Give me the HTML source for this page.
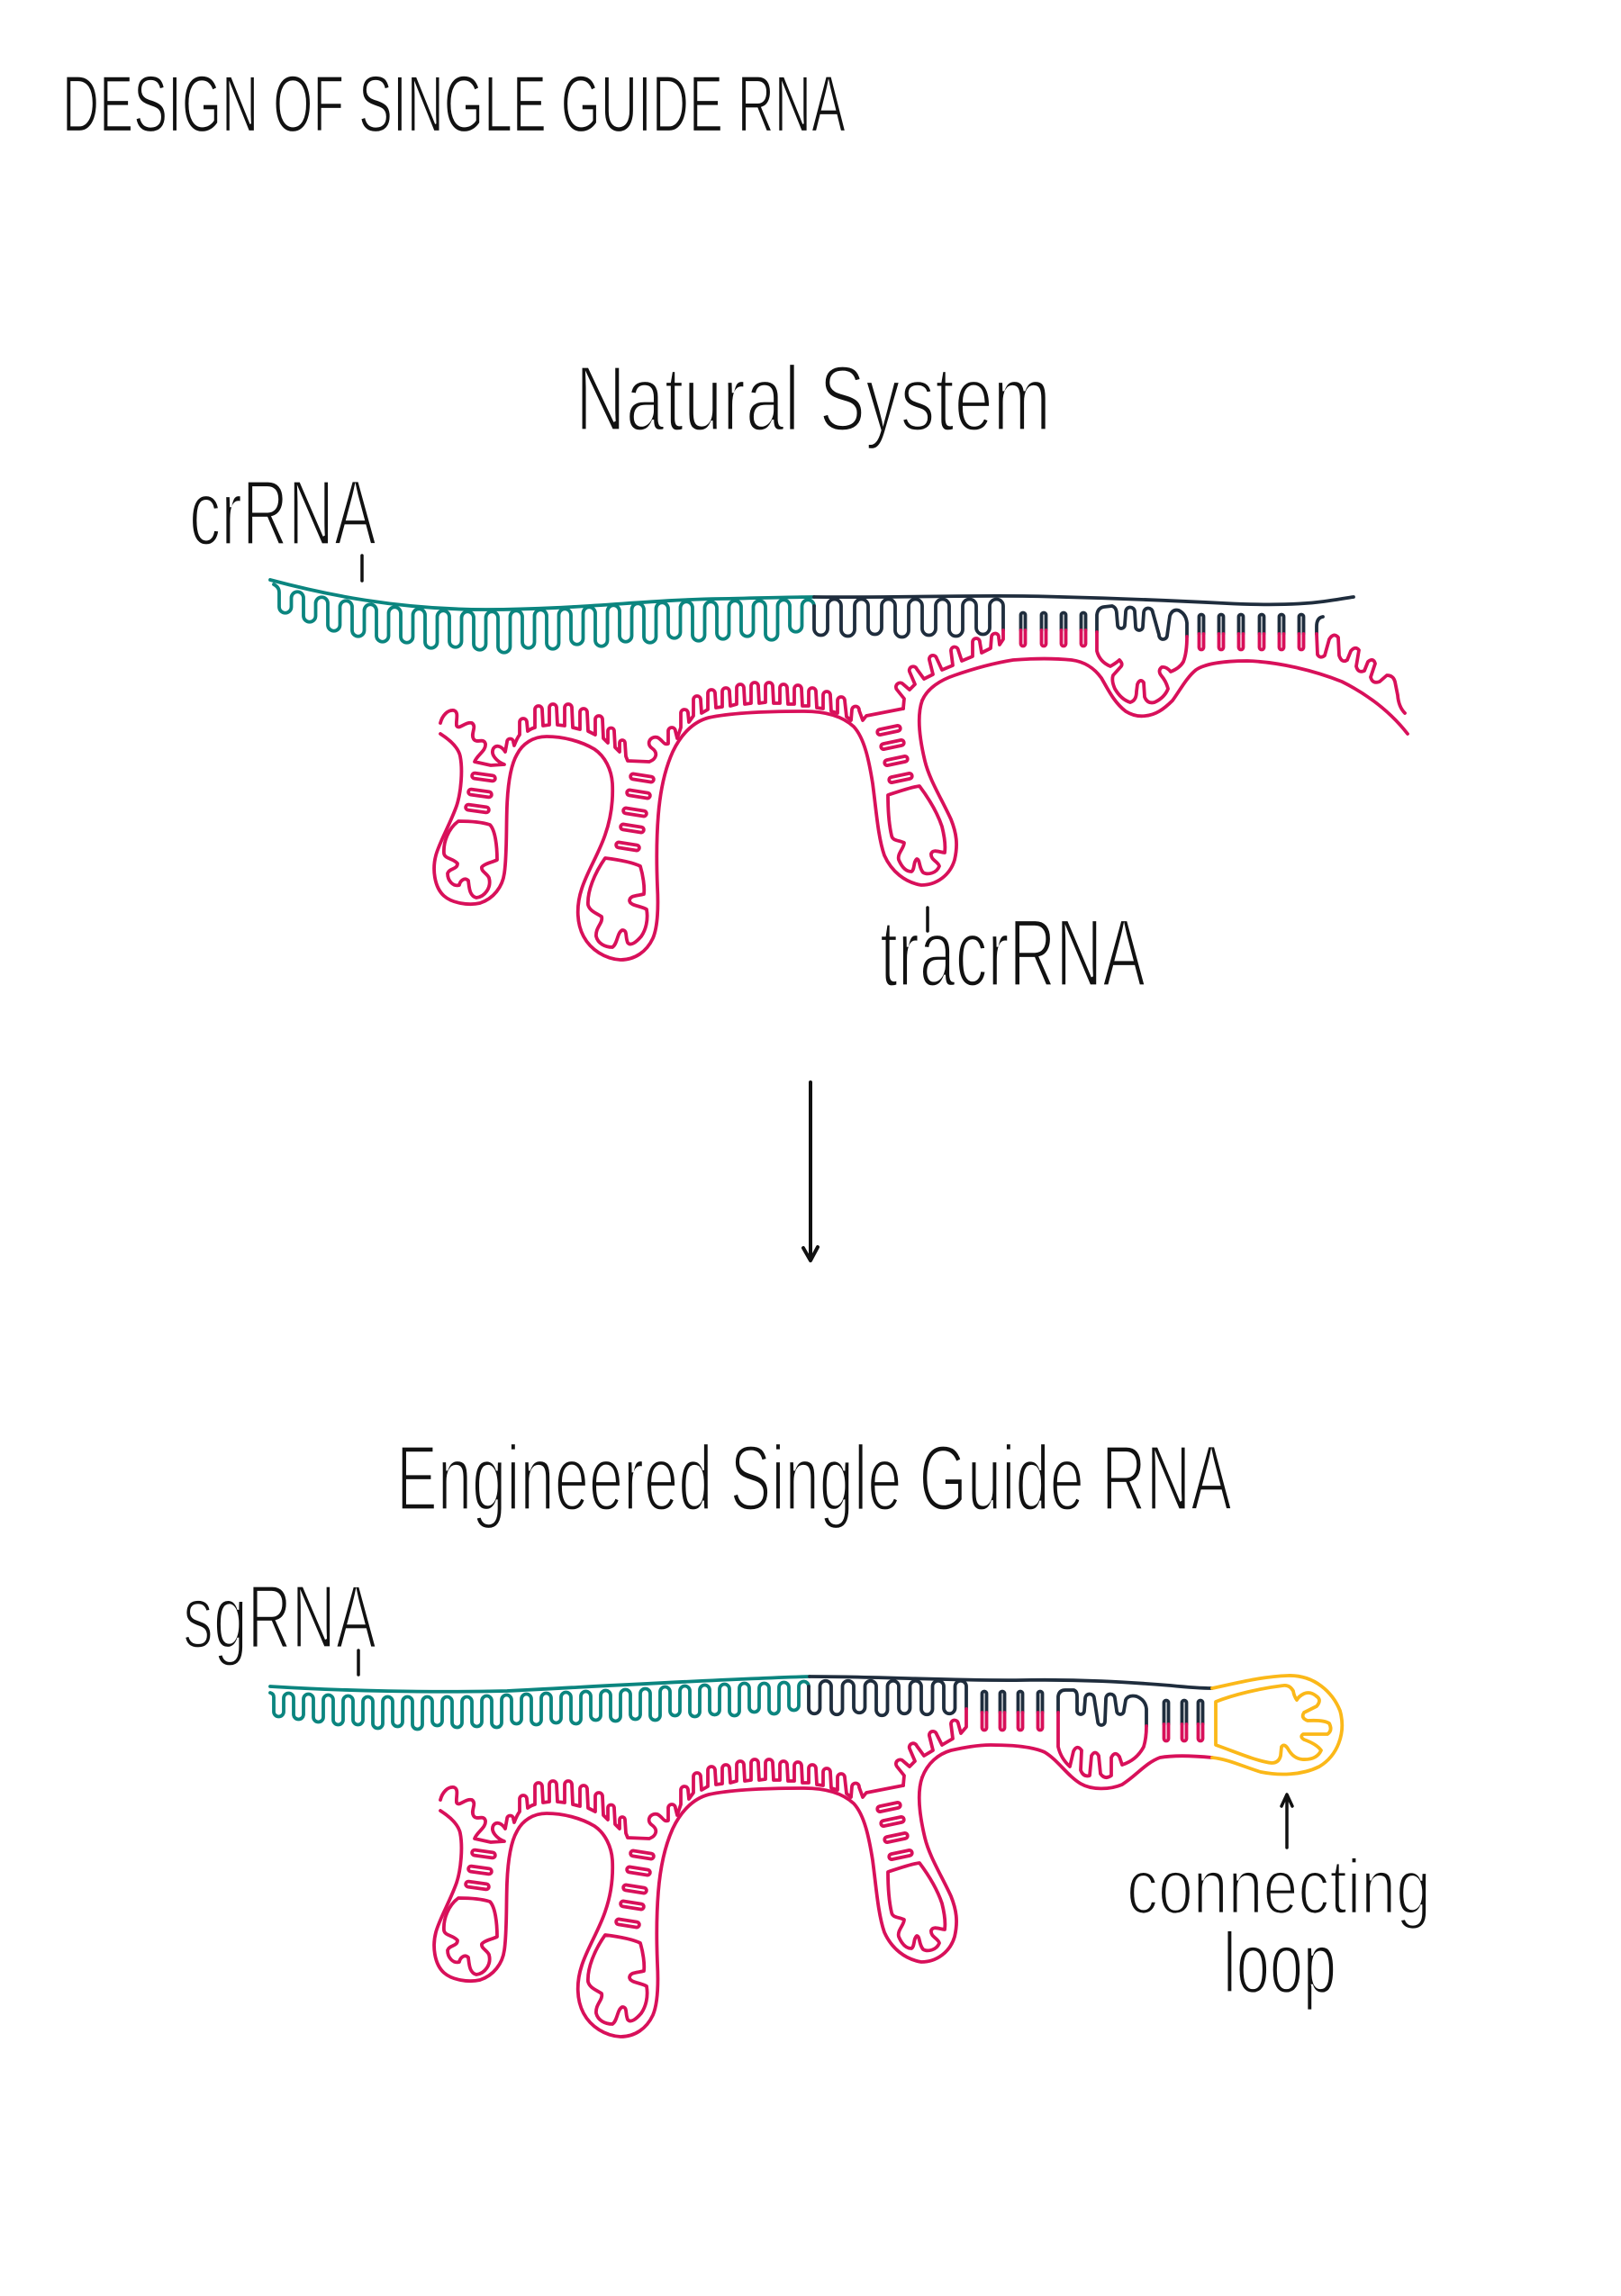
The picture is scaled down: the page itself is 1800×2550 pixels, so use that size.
<!DOCTYPE html>
<html><head><meta charset="utf-8"><style>
html,body{margin:0;padding:0;background:#fff}
svg{display:block}
.t{font-family:"Liberation Sans","DejaVu Sans",sans-serif;fill:#111;stroke:#fff;stroke-width:3.2}
</style></head><body>
<svg xmlns="http://www.w3.org/2000/svg" width="1800" height="2550" viewBox="0 0 1800 2550">
<defs>
<g id="tr" fill="none" stroke="#d8105a" stroke-width="3.8" stroke-linecap="round" stroke-linejoin="round">
<path d="M489,815 C500,822 509,830 511,840 C514,855 512,880 507,895 C500,915 488,935 484,950 C480,965 482,985 493,995 C502,1003 520,1006 533,1003 C548,998 558,985 560,970 C563,950 562,920 563,895 C564,870 567,850 574,838 C580,826 592,818 607,818 C625,818 645,823 660,832 C672,840 679,855 680,870 C681,890 678,910 672,927 C665,948 652,968 646,987 C640,1005 640,1025 648,1040 C656,1055 672,1065 689,1066 C705,1066 718,1057 725,1042 C731,1028 731,1005 730,985 C729,960 729,930 731,905 C733,880 738,855 747,835 C755,818 768,802 787,797 C810,792 850,790 893,790 C915,790 935,795 948,807 C960,820 965,845 969,870 C973,900 975,930 982,950 C990,968 1005,980 1023,983 C1040,983 1055,972 1060,955 C1064,938 1062,925 1056,910 C1046,888 1032,866 1027,845 C1021,820 1018,795 1024,778"/>
<path d="M489,803 C491,795 497,788 504,789 C510,791 506,800 507,806 C510,811 517,801 524,803 C530,807 522,815 526,821 C530,826 537,819 539,826 C540,834 530,838 527,846 L545,850 L560,849 C552,846 544,838 548,831 C552,826 558,830 561,835 L563,824 A3.5,3.5 0 0 1 570,824 L571,828 Q574,820 577,816 L577,802 A4,4 0 0 1 585,802 L586,812 Q590,809 594,808 L594,788 A4,4 0 0 1 602,788 L603,806 L610,805 L610,786 A4,4 0 0 1 618,786 L619,805 L627,806 L627,786 A4,4 0 0 1 635,786 L636,808 L644,810 L644,791 A4,4 0 0 1 652,791 L653,812 L661,816 L661,799 A4,4 0 0 1 669,799 L670,820 L675,825 L675,812 A3.5,3.5 0 0 1 682,812 L683,830 L688,835 L688,825 A3,3 0 0 1 694,825 L695,840 L697,845 L721,846 C729,843 731,836 724,831 C717,826 722,817 730,819 C736,822 737,828 742,826 L742,812 A4,4 0 0 1 750,812 L752,820 L756,808 L756,792 A4,4 0 0 1 764,792 L765,802 L770,795 L770,777 A4,4 0 0 1 778,777 L779,792 L786,788 L786,770 A4,4 0 0 1 794,770 L795,786 L802,785 L802,768 A4,4 0 0 1 810,768 L811,784 L818,782 L818,764 A4,4 0 0 1 826,764 L827,782 L834,781 L834,762 A4,4 0 0 1 842,762 L843,781 L850,780 L850,762 A4,4 0 0 1 858,762 L859,781 L866,781 L866,764 A4,4 0 0 1 874,764 L875,782 L882,782 L882,765 A4,4 0 0 1 890,765 L891,784 L898,784 L898,768 A4,4 0 0 1 906,768 L907,786 L914,787 L914,772 A4,4 0 0 1 922,772 L923,790 L930,792 L930,778 A4,4 0 0 1 938,778 L940,796 L945,800 L946,788 A4,4 0 0 1 954,789 L958,800 L962,795 L1003,787"/>
<rect x="524" y="860" width="26" height="6" rx="3" transform="rotate(8 537 863)"/>
<rect x="520" y="878" width="26" height="6" rx="3" transform="rotate(8 533 881)"/>
<rect x="517" y="895" width="26" height="6" rx="3" transform="rotate(8 530 898)"/>
<path d="M509,912 C520,912 535,913 544,916 C550,922 552,940 552,955 C546,958 538,959 535,963 C534,968 541,970 543,975 C546,986 538,996 529,997 C521,995 521,985 520,978 C516,974 511,978 510,983 C503,985 497,978 497,970 C499,964 508,966 508,959 C503,953 494,954 493,948 C492,935 498,920 509,912 Z"/>
<rect x="700" y="861" width="26" height="6" rx="3" transform="rotate(9 713 864)"/>
<rect x="696" y="879" width="26" height="6" rx="3" transform="rotate(9 709 882)"/>
<rect x="692" y="899" width="26" height="6" rx="3" transform="rotate(9 705 902)"/>
<rect x="689" y="917" width="26" height="6" rx="3" transform="rotate(9 702 920)"/>
<rect x="684" y="937" width="26" height="6" rx="3" transform="rotate(9 697 940)"/>
<path d="M672,953 C688,955 703,958 711,962 C714,972 716,985 715,993 C708,995 700,994 699,1000 C699,1006 712,1006 718,1010 C720,1022 717,1033 712,1040 C706,1047 700,1051 697,1047 C694,1040 697,1033 691,1033 C685,1036 686,1048 680,1052 C672,1052 664,1048 662,1040 C661,1030 670,1025 668,1018 C662,1014 655,1012 653,1005 C652,990 660,970 672,953 Z"/>
<rect x="974" y="808" width="26" height="6" rx="3" transform="rotate(-12 987 811)"/>
<rect x="978" y="824" width="26" height="6" rx="3" transform="rotate(-12 991 827)"/>
<rect x="982" y="842" width="26" height="6" rx="3" transform="rotate(-12 995 845)"/>
<rect x="987" y="861" width="26" height="6" rx="3" transform="rotate(-12 1000 864)"/>
<path d="M986,883 C998,879 1012,874 1021,873 C1030,885 1040,900 1046,918 C1049,930 1050,940 1049,947 C1042,946 1036,943 1034,948 C1033,955 1042,957 1043,962 C1040,970 1030,972 1025,969 C1020,963 1022,955 1018,954 C1014,957 1016,966 1012,968 C1005,968 1001,962 998,955 C996,948 1004,942 1004,936 C998,933 991,934 990,928 C987,915 986,898 986,883 Z"/>
</g>
</defs>

<!-- Title -->
<text class="t" x="69" y="146" font-size="89" textLength="870" lengthAdjust="spacingAndGlyphs" style="stroke-width:2.2">DESIGN OF SINGLE GUIDE RNA</text>

<!-- Natural system -->
<text class="t" x="639" y="478" font-size="103" textLength="528" lengthAdjust="spacingAndGlyphs">Natural System</text>
<text class="t" x="210" y="605" font-size="103" textLength="208" lengthAdjust="spacingAndGlyphs">crRNA</text>
<text class="t" x="977" y="1095" font-size="107" textLength="295" lengthAdjust="spacingAndGlyphs">tracrRNA</text>

<g fill="none" stroke="#111" stroke-width="3.5" stroke-linecap="round">
<path d="M402,617 V645"/>
<path d="M1030,1008 V1034"/>
<path d="M398,1833 V1860"/>
<path d="M900,1202 L900,1399 M892,1386 L900,1400 L908,1385" stroke-width="4" stroke-linejoin="round"/>
<path d="M1429,2052 L1429,1994 M1423,2006 L1429,1993 L1435,2006" stroke-linejoin="round"/>
</g>

<!-- TOP DIAGRAM -->
<g fill="none" stroke-width="3.8" stroke-linecap="round" stroke-linejoin="round">
<path stroke="#0b857f" d="M300,644 C360,660 440,677 540,677 C640,677 720,666 800,665 C850,664 880,663 904,663"/>
<path stroke="#1f2d3d" d="M904,663 C1000,664 1100,660 1180,663 C1260,665 1320,668 1360,670 C1400,672 1440,672 1470,668 C1485,666 1495,664 1503,663"/>
<path stroke="#0b857f" d="M304,649 Q310,652 310,658 v16 a6.75,6.75 0 0 0 13.5,0 v-10 a6.75,6.75 0 0 1 13.5,0 v20 a6.75,6.75 0 0 0 13.5,0 v-14 a6.75,6.75 0 0 1 13.5,0 v24 a6.75,6.75 0 0 0 13.5,0 v-20 a6.75,6.75 0 0 1 13.5,0 v26 a6.75,6.75 0 0 0 13.5,0 v-22 a6.75,6.75 0 0 1 13.5,0 v28 a6.75,6.75 0 0 0 13.5,0 v-25 a6.75,6.75 0 0 1 13.5,0 v26 a6.75,6.75 0 0 0 13.5,0 v-24 a6.75,6.75 0 0 1 13.5,0 v30 a6.75,6.75 0 0 0 13.5,0 v-28 a6.75,6.75 0 0 1 13.5,0 v27 a6.75,6.75 0 0 0 13.5,0 v-26 a6.75,6.75 0 0 1 13.5,0 v29 a6.75,6.75 0 0 0 13.5,0 v-29 a6.75,6.75 0 0 1 13.5,0 v32 a6.75,6.75 0 0 0 13.5,0 v-33 a6.75,6.75 0 0 1 13.5,0 v28 a6.75,6.75 0 0 0 13.5,0 v-29 a6.75,6.75 0 0 1 13.5,0 v30 a6.75,6.75 0 0 0 13.5,0 v-31 a6.75,6.75 0 0 1 13.5,0 v26 a6.75,6.75 0 0 0 13.5,0 v-28 a6.75,6.75 0 0 1 13.5,0 v30 a6.75,6.75 0 0 0 13.5,0 v-32 a6.75,6.75 0 0 1 13.5,0 v27 a6.75,6.75 0 0 0 13.5,0 v-29 a6.75,6.75 0 0 1 13.5,0 v30 a6.75,6.75 0 0 0 13.5,0 v-31 a6.75,6.75 0 0 1 13.5,0 v26 a6.75,6.75 0 0 0 13.5,0 v-27 a6.75,6.75 0 0 1 13.5,0 v30 a6.75,6.75 0 0 0 13.5,0 v-30 a6.75,6.75 0 0 1 13.5,0 v28 a6.75,6.75 0 0 0 13.5,0 v-29 a6.75,6.75 0 0 1 13.5,0 v26 a6.75,6.75 0 0 0 13.5,0 v-26 a6.75,6.75 0 0 1 13.5,0 v30 a6.75,6.75 0 0 0 13.5,0 v-31 a6.75,6.75 0 0 1 13.5,0 v22 a6.75,6.75 0 0 0 13.5,0 v-22 a6.75,6.75 0 0 1 13.5,0"/>
<path stroke="#1f2d3d" d="M904,673 v25 a7.5,7.5 0 0 0 15,0 v-25 a7.5,7.5 0 0 1 15,0 v26 a7.5,7.5 0 0 0 15,0 v-26 a7.5,7.5 0 0 1 15,0 v24 a7.5,7.5 0 0 0 15,0 v-24 a7.5,7.5 0 0 1 15,0 v27 a7.5,7.5 0 0 0 15,0 v-27 a7.5,7.5 0 0 1 15,0 v25 a7.5,7.5 0 0 0 15,0 v-25 a7.5,7.5 0 0 1 15,0 v26 a7.5,7.5 0 0 0 15,0 v-26 a7.5,7.5 0 0 1 15,0 v24 a7.5,7.5 0 0 0 15,0 v-24 a7.5,7.5 0 0 1 15,0 v27"/>
<!-- top paired loops left -->
<path stroke="#1f2d3d" d="M1133.5,700 V683 A2.5,2.5 0 0 1 1138.5,683 V700 M1156.5,700 V683 A2.5,2.5 0 0 1 1161.5,683 V700 M1178.5,700 V683 A2.5,2.5 0 0 1 1183.5,683 V700 M1200.5,700 V683 A2.5,2.5 0 0 1 1205.5,683 V700"/>
<path stroke="#d8105a" d="M1133.5,700 V715 A2.5,2.5 0 0 0 1138.5,715 V700 M1156.5,700 V715 A2.5,2.5 0 0 0 1161.5,715 V700 M1178.5,700 V715 A2.5,2.5 0 0 0 1183.5,715 V700 M1200.5,700 V715 A2.5,2.5 0 0 0 1205.5,715 V700"/>
<!-- top bulge -->
<path stroke="#1f2d3d" d="M1218,702 L1218,683 Q1219,675 1226,674 L1235,673 Q1240,675 1240,682 L1241,694 A4,4 0 0 0 1249,694 L1250,680 A5,5 0 0 1 1260,679 L1261,696 A4,4 0 0 0 1269,696 L1270,681 A5,5 0 0 1 1280,680 L1287,705 A4.5,4.5 0 0 0 1296,706 L1299,684 Q1302,676 1309,678 Q1317,682 1318,692 L1318,707"/>
<path stroke="#d8105a" d="M1218,702 L1218,723 Q1221,735 1233,740 Q1240,736 1243,733 Q1247,737 1245,740 L1236,750 Q1234,756 1238,765 Q1245,777 1255,780 Q1262,778 1262,768 L1263,760 Q1266,753 1270,758 L1271,774 Q1274,782 1282,780 Q1293,775 1297,765 Q1295,757 1290,751 Q1285,745 1290,741 Q1295,740 1300,746 Q1310,742 1314,735 Q1318,725 1318,707"/>
<!-- top right loops -->
<path stroke="#1f2d3d" d="M1331.5,704 V685 A2.5,2.5 0 0 1 1336.5,685 V704 M1353.5,704 V685 A2.5,2.5 0 0 1 1358.5,685 V704 M1375.5,704 V685 A2.5,2.5 0 0 1 1380.5,685 V704 M1398.5,704 V685 A2.5,2.5 0 0 1 1403.5,685 V704 M1420.5,704 V685 A2.5,2.5 0 0 1 1425.5,685 V704 M1442.5,704 V685 A2.5,2.5 0 0 1 1447.5,685 V704 M1469,685 Q1462,686 1462,696 L1462,704"/>
<path stroke="#d8105a" d="M1331.5,704 V719 A2.5,2.5 0 0 0 1336.5,719 V704 M1353.5,704 V719 A2.5,2.5 0 0 0 1358.5,719 V704 M1375.5,704 V719 A2.5,2.5 0 0 0 1380.5,719 V704 M1398.5,704 V719 A2.5,2.5 0 0 0 1403.5,719 V704 M1420.5,704 V719 A2.5,2.5 0 0 0 1425.5,719 V704 M1442.5,704 V719 A2.5,2.5 0 0 0 1447.5,719 V704"/>
<path stroke="#d8105a" d="M1462,704 L1463,727 Q1466,732 1471,728 L1476,710 Q1481,702 1486,708 L1487,728 Q1490,737 1496,733 L1500,723 Q1505,717 1509,722 L1506,740 Q1508,748 1515,745 L1519,735 Q1525,730 1527,737 L1522,752 Q1524,760 1532,757 L1540,750 Q1547,750 1549,757 L1552,772 Q1553,785 1560,792"/>
<path stroke="#d8105a" d="M1003,787 L1004,776 L996,766 A4,4 0 0 1 1003,760 L1010,766 L1016,760 L1010,746 A4,4 0 0 1 1018,743 L1026,754 L1036,749 L1032,733 A4,4 0 0 1 1040,731 L1046,744 L1058,739 L1056,723 A4,4 0 0 1 1064,722 L1068,734 L1080,729 L1080,713 A4,4 0 0 1 1088,713 L1090,725 L1100,720 L1101,707 A4,4 0 0 1 1109,708 L1110,716 L1114,710 L1114,700"/>
<path stroke="#d8105a" d="M1024,778 C1030,764 1045,755 1060,750 C1080,743 1100,737 1125,733 C1150,731 1170,731 1190,733 C1205,735 1215,742 1223,753 C1230,765 1237,780 1250,790 C1258,795 1265,796 1272,795 C1283,794 1292,788 1302,778 C1310,767 1318,752 1328,744 C1338,737 1360,734 1385,734 C1420,735 1460,745 1490,757 C1520,772 1545,792 1563,815"/>
</g>
<use href="#tr"/>

<!-- BOTTOM DIAGRAM -->
<text class="t" x="440" y="1677" font-size="103" textLength="928" lengthAdjust="spacingAndGlyphs">Engineered Single Guide RNA</text>
<text class="t" x="203" y="1830" font-size="100" textLength="215" lengthAdjust="spacingAndGlyphs">sgRNA</text>
<text class="t" x="1251" y="2125" font-size="86" textLength="338" lengthAdjust="spacingAndGlyphs" style="stroke-width:2.8">connecting</text>
<text class="t" x="1358" y="2213" font-size="96" textLength="126" lengthAdjust="spacingAndGlyphs" style="stroke-width:2.8">loop</text>

<use href="#tr" transform="translate(0,1196)"/>
<g fill="none" stroke-width="3.8" stroke-linecap="round" stroke-linejoin="round">
<path stroke="#0b857f" d="M300,1873 C380,1878 480,1880 563,1878 C680,1872 800,1865 899,1862"/>
<path stroke="#1f2d3d" d="M899,1862 C980,1862 1060,1867 1136,1866 C1200,1865 1250,1868 1300,1872 C1320,1874 1335,1875 1346,1875"/>
<path stroke="#0b857f" d="M300,1880 Q304,1881 304,1885 v16 a5.5,5.5 0 0 0 11,0 v-15 a5.5,5.5 0 0 1 11,0 v18 a5.5,5.5 0 0 0 11,0 v-17 a5.5,5.5 0 0 1 11,0 v20 a5.5,5.5 0 0 0 11,0 v-19 a5.5,5.5 0 0 1 11,0 v22 a5.5,5.5 0 0 0 11,0 v-21 a5.5,5.5 0 0 1 11,0 v21 a5.5,5.5 0 0 0 11,0 v-20 a5.5,5.5 0 0 1 11,0 v24 a5.5,5.5 0 0 0 11,0 v-24 a5.5,5.5 0 0 1 11,0 v22 a5.5,5.5 0 0 0 11,0 v-22 a5.5,5.5 0 0 1 11,0 v25 a5.5,5.5 0 0 0 11,0 v-25 a5.5,5.5 0 0 1 11,0 v21 a5.5,5.5 0 0 0 11,0 v-21 a5.5,5.5 0 0 1 11,0 v23 a5.5,5.5 0 0 0 11,0 v-23 a5.5,5.5 0 0 1 11,0 v22 a5.5,5.5 0 0 0 11,0 v-23 a5.5,5.5 0 0 1 11,0 v24 a5.5,5.5 0 0 0 11,0 v-25 a5.5,5.5 0 0 1 11,0 v21 a5.5,5.5 0 0 0 11,0 v-22 a5.5,5.5 0 0 1 11,0 v23 a5.5,5.5 0 0 0 11,0 v-24 a5.5,5.5 0 0 1 11,0 v22 a5.5,5.5 0 0 0 11,0 v-23 a5.5,5.5 0 0 1 11,0 v24 a5.5,5.5 0 0 0 11,0 v-25 a5.5,5.5 0 0 1 11,0 v21 a5.5,5.5 0 0 0 11,0 v-22 a5.5,5.5 0 0 1 11,0 v23 a5.5,5.5 0 0 0 11,0 v-24 a5.5,5.5 0 0 1 11,0 v22 a5.5,5.5 0 0 0 11,0 v-23 a5.5,5.5 0 0 1 11,0 v24 a5.5,5.5 0 0 0 11,0 v-26 a5.5,5.5 0 0 1 11,0 v21 a5.5,5.5 0 0 0 11,0 v-22 a5.5,5.5 0 0 1 11,0 v23 a5.5,5.5 0 0 0 11,0 v-24 a5.5,5.5 0 0 1 11,0 v22 a5.5,5.5 0 0 0 11,0 v-23 a5.5,5.5 0 0 1 11,0 v24 a5.5,5.5 0 0 0 11,0 v-25 a5.5,5.5 0 0 1 11,0 v21 a5.5,5.5 0 0 0 11,0 v-21 a5.5,5.5 0 0 1 11,0 v23 a5.5,5.5 0 0 0 11,0 v-24 a5.5,5.5 0 0 1 11,0 v20 a5.5,5.5 0 0 0 11,0 v-21 a5.5,5.5 0 0 1 11,0"/>
<path stroke="#1f2d3d" d="M898,1873 v24 a6.25,6.25 0 0 0 12.5,0 v-24 a6.25,6.25 0 0 1 12.5,0 v25 a6.25,6.25 0 0 0 12.5,0 v-25 a6.25,6.25 0 0 1 12.5,0 v23 a6.25,6.25 0 0 0 12.5,0 v-23 a6.25,6.25 0 0 1 12.5,0 v26 a6.25,6.25 0 0 0 12.5,0 v-26 a6.25,6.25 0 0 1 12.5,0 v24 a6.25,6.25 0 0 0 12.5,0 v-24 a6.25,6.25 0 0 1 12.5,0 v25 a6.25,6.25 0 0 0 12.5,0 v-25 a6.25,6.25 0 0 1 12.5,0 v24 a6.25,6.25 0 0 0 12.5,0 v-24 a6.25,6.25 0 0 1 12.5,0 v25"/>
<path stroke="#d8105a" d="M1003,1983 L1004,1972 L996,1962 A4,4 0 0 1 1003,1956 L1010,1962 L1016,1956 L1010,1942 A4,4 0 0 1 1018,1939 L1026,1950 L1036,1944 L1032,1928 A4,4 0 0 1 1040,1926 L1046,1938 L1058,1931 L1056,1915 A4,4 0 0 1 1064,1914 L1067,1925 L1073,1918 L1073,1898"/>
<!-- bottom left loops -->
<path stroke="#1f2d3d" d="M1090.5,1902 V1881 A2.5,2.5 0 0 1 1095.5,1881 V1902 M1110.5,1902 V1881 A2.5,2.5 0 0 1 1115.5,1881 V1902 M1130.5,1902 V1881 A2.5,2.5 0 0 1 1135.5,1881 V1902 M1152.5,1902 V1881 A2.5,2.5 0 0 1 1157.5,1881 V1902"/>
<path stroke="#d8105a" d="M1090.5,1902 V1919 A2.5,2.5 0 0 0 1095.5,1919 V1902 M1110.5,1902 V1919 A2.5,2.5 0 0 0 1115.5,1919 V1902 M1130.5,1902 V1919 A2.5,2.5 0 0 0 1135.5,1919 V1902 M1152.5,1902 V1919 A2.5,2.5 0 0 0 1157.5,1919 V1902"/>
<!-- bottom bulge -->
<path stroke="#1f2d3d" d="M1175,1902 L1175,1884 Q1176,1877 1183,1877 L1192,1877 Q1196,1878 1196,1884 L1196,1900 A4,4 0 0 0 1204,1900 L1205,1887 A5,5 0 0 1 1215,1886 L1219,1912 A4,4 0 0 0 1227,1912 L1228,1887 A5,5 0 0 1 1238,1886 L1240,1900 A4,4 0 0 0 1248,1900 L1250,1888 Q1253,1882 1262,1884 Q1272,1888 1273,1898 L1273,1917"/>
<path stroke="#d8105a" d="M1175,1902 L1175,1940 Q1178,1953 1188,1962 L1192,1945 Q1196,1937 1201,1944 L1200,1966 Q1203,1974 1210,1972 L1212,1950 Q1216,1943 1220,1950 L1222,1970 Q1227,1977 1234,1972 L1234,1952 Q1238,1944 1243,1951 L1246,1960 Q1262,1955 1270,1940 Q1273,1930 1273,1917"/>
<!-- bottom right loops -->
<path stroke="#1f2d3d" d="M1292.5,1915 V1891 A2.5,2.5 0 0 1 1297.5,1891 V1915 M1312.5,1915 V1891 A2.5,2.5 0 0 1 1317.5,1891 V1915 M1330.5,1915 V1891 A2.5,2.5 0 0 1 1335.5,1891 V1915"/>
<path stroke="#d8105a" d="M1292.5,1915 V1931 A2.5,2.5 0 0 0 1297.5,1931 V1915 M1312.5,1915 V1931 A2.5,2.5 0 0 0 1317.5,1931 V1915 M1330.5,1915 V1931 A2.5,2.5 0 0 0 1335.5,1931 V1915"/>
<path stroke="#d8105a" d="M1024,1974 C1030,1958 1042,1948 1056,1944 C1070,1941 1085,1938 1100,1938 C1120,1938 1145,1939 1160,1946 C1175,1955 1185,1972 1200,1981 C1212,1988 1232,1988 1246,1982 C1262,1972 1272,1958 1288,1952 C1305,1949 1325,1950 1346,1952"/>
<!-- yellow connecting loop -->
<path stroke="#fbb819" d="M1346,1875 C1370,1870 1400,1862 1430,1861 C1460,1860 1480,1880 1488,1900 C1495,1925 1485,1950 1465,1962 C1445,1972 1420,1972 1400,1968 C1380,1962 1365,1954 1346,1952"/>
<path stroke="#fbb819" d="M1350,1890 L1350,1938 C1370,1945 1395,1956 1412,1958 Q1420,1958 1422,1950 L1423,1940 Q1426,1936 1430,1942 Q1436,1953 1446,1954 Q1462,1955 1467,1944 Q1462,1937 1448,1932 Q1443,1929 1447,1926 L1474,1926 Q1480,1922 1476,1914 Q1470,1910 1452,1911 Q1444,1908 1448,1902 L1462,1895 Q1468,1888 1462,1884 Q1455,1878 1448,1881 Q1442,1884 1440,1888 Q1437,1884 1436,1878 Q1432,1871 1425,1872 C1400,1875 1370,1882 1350,1890 Z"/>
</g>
</svg>
</body></html>
